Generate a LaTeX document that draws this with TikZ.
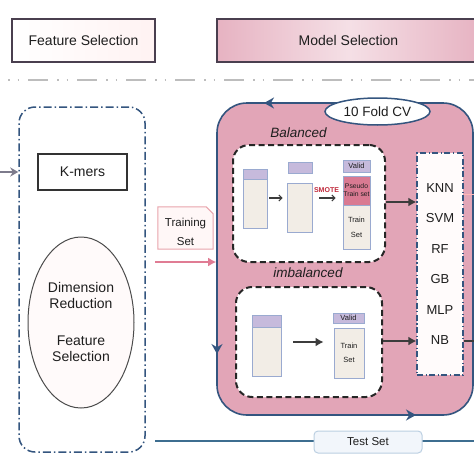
\documentclass[tikz,border=0pt]{standalone}
\usepackage{fontspec}
\setmainfont{Liberation Sans}
\usetikzlibrary{arrows.meta,shapes.geometric}
\definecolor{navy}{HTML}{34557F}
\definecolor{hdrline}{HTML}{4A3F4F}
\definecolor{pinkfill}{HTML}{E2A5B7}
\definecolor{sepgray}{HTML}{BDBDBD}
\definecolor{barfill}{HTML}{F2EDE6}
\definecolor{barline}{HTML}{9AAAD0}
\definecolor{purp}{HTML}{C6BADC}
\definecolor{pseudocol}{HTML}{D97A92}
\definecolor{txt}{HTML}{1E1E1E}
\definecolor{arrgray}{HTML}{3C3C3C}
\definecolor{pinkarrow}{HTML}{E07C94}
\definecolor{tsline}{HTML}{E8A4AC}
\definecolor{testline}{HTML}{3E6E90}
\definecolor{testfill}{HTML}{F2F6FB}
\definecolor{testdraw}{HTML}{BCD0E2}
\definecolor{smote}{HTML}{C0283A}
\definecolor{inarrow}{HTML}{7D7B8C}
\tikzset{
  hdr/.style={draw=hdrline, line width=1.2pt, inner sep=0pt, text=txt, font=\fontsize{14}{16}\selectfont},
  dashdotbox/.style={draw=navy, line width=1.5pt, dash pattern=on 8pt off 3pt on 1.5pt off 3pt},
  blackdash/.style={draw=black!85, line width=2pt, dash pattern=on 6pt off 3.5pt, fill=white, rounded corners=16pt, inner sep=0pt},
  bar/.style={draw=barline, line width=0.8pt, fill=barfill, inner sep=0pt},
  barv/.style={bar, fill=purp},
  bigarrow/.style={draw=arrgray, line width=2.4pt, -{Latex[length=8pt,width=9pt]}},
  smallarrow/.style={draw=arrgray, line width=1.1pt, -{Straight Barb[length=3pt,width=6pt]}},
  bordertip/.style={draw=navy, line width=1.5pt, -{Stealth[length=10pt,width=11pt]}},
  lbl/.style={text=txt, inner sep=0pt, align=center}
}
\begin{document}
\begin{tikzpicture}[x=1pt,y=-1pt]
\clip (0,0) rectangle (474,474);
\fill[white] (0,0) rectangle (474,474);
\useasboundingbox (0,0) rectangle (474,474);

% header
\node[hdr, left color=white, right color=pink!20!white, minimum width=143pt, minimum height=43pt] (fs) at (83.5,40.5) {Feature Selection};
\node[hdr, left color=pinkfill!85!white, right color=pinkfill!85!white, middle color=pinkfill!35!white, minimum width=263pt, minimum height=43pt] (ms) at (348.5,40.5) {Model Selection};

% separator
\draw[sepgray, line width=1.8pt, dash pattern=on 20pt off 9pt on 1.5pt off 8pt on 1.5pt off 9pt, dash phase=28pt] (7,80) -- (474,80);

% feature selection frame
\node[dashdotbox, rounded corners=16pt, minimum width=126pt, minimum height=345pt, inner sep=0pt] (fbox) at (82,279.5) {};
\coordinate (inp) at (0,172);
\draw[draw=inarrow, line width=1.6pt, -{Stealth[length=8pt,width=9pt]}] (inp) -- (inp -| fbox.west);
\node[draw=black!80, line width=1.2pt, fill=white, minimum width=89pt, minimum height=36pt, inner sep=0pt, text=txt, font=\fontsize{14}{16}\selectfont] (kmer) at (82.5,172) {K-mers};
\node[ellipse, draw=black!70, line width=1pt, fill=pink!8!white, minimum width=106pt, minimum height=171pt, inner sep=0pt] (ell) at (81,322.5) {};
\node[lbl, font=\fontsize{14}{16}\selectfont] (elltext) at (81,322) {Dimension\\Reduction\\[21pt]Feature\\Selection};

% training set tag
\path node[minimum width=55pt, minimum height=42pt, inner sep=0pt] (ts) at (185.5,228) {};
\filldraw[draw=tsline, line width=1pt, fill=red!3!white] (ts.south west) -- (ts.north west) -- ([xshift=-7pt]ts.north east) -- ([yshift=-7pt]ts.north east) -- (ts.south east) -- cycle;
\node[lbl, font=\fontsize{11.5}{19}\selectfont] (tstext) at (185.5,231.5) {Training\\Set};

% big CV frame
\node[draw=navy, line width=1.6pt, fill=pinkfill, rounded corners=30pt, minimum width=256pt, minimum height=312pt, inner sep=0pt] (cv) at (345,259) {};
\coordinate (tsa) at (155,262);
\draw[draw=pinkarrow, line width=2.4pt, -{Latex[length=8pt,width=9pt]}] (tsa) -- (tsa -| cv.west);

% border tips
\coordinate (t1) at (268,103);
\draw[bordertip] ([xshift=4pt]t1) -- ([xshift=-4pt]t1);
\coordinate (t2) at (217,350);
\draw[bordertip] ([yshift=4pt]t2) -- ([yshift=-4pt]t2);
\coordinate (t3) at (412,415);
\draw[bordertip] ([xshift=-4pt]t3) -- ([xshift=4pt]t3);

\node[ellipse, draw=navy, line width=1.5pt, fill=white, minimum width=105pt, minimum height=27pt, inner sep=0pt, text=txt, font=\fontsize{13.5}{15}\selectfont] (fold) at (377.5,111.5) {10 Fold CV};

% balanced
\node[lbl, font=\itshape\fontsize{13.5}{15}\selectfont] (ballbl) at (298.5,133) {Balanced};
\node[blackdash, minimum width=152pt, minimum height=117pt] (bal) at (309,203.5) {};
\node[barv, minimum width=24pt, minimum height=10pt] (b1v) at (255,174) {};
\node[bar, minimum width=24pt, minimum height=49pt] (b1t) at (255,203.5) {};
\node[barv, minimum width=24pt, minimum height=11pt] (b2v) at (300,167.5) {};
\node[bar, minimum width=25pt, minimum height=49pt] (b2t) at (299.5,207.5) {};
\node[barv, minimum width=27pt, minimum height=12pt, font=\fontsize{7.5}{8}\selectfont, text=txt] (vb) at (356.5,166) {Valid};
\node[bar, fill=pseudocol, minimum width=27pt, minimum height=29pt, align=center, font=\fontsize{6.8}{8}\selectfont, text=txt] (pseudo) at (356.5,190.5) {Pseudo\\Train set};
\node[bar, minimum width=27pt, minimum height=44pt, align=center, font=\fontsize{7.5}{15}\selectfont, text=txt] (trb) at (356.5,227) {Train\\Set};
\coordinate (r1) at (0,198);
\draw[smallarrow, shorten <=2pt, shorten >=4pt] (b1t.east |- r1) -- (b2t.west |- r1);
\draw[smallarrow, shorten <=7pt, shorten >=7pt] (b2t.east |- r1) -- (pseudo.west |- r1);
\node[lbl, text=smote, font=\bfseries\fontsize{7}{8}\selectfont] (smotelbl) at (326.5,190) {SMOTE};

% imbalanced
\node[lbl, font=\itshape\fontsize{13.5}{15}\selectfont] (imblbl) at (308,273) {imbalanced};
\node[blackdash, minimum width=146pt, minimum height=110pt] (imb) at (309,342) {};
\node[barv, minimum width=29pt, minimum height=12pt] (i1v) at (266.5,321) {};
\node[bar, minimum width=29pt, minimum height=49pt] (i1t) at (266.5,351.5) {};
\node[barv, minimum width=31pt, minimum height=10pt, font=\fontsize{7.5}{8}\selectfont, text=txt] (iv) at (348.5,318) {Valid};
\node[bar, minimum width=30pt, minimum height=50pt, align=center, font=\fontsize{7.5}{14}\selectfont, text=txt] (itr) at (349,353) {Train\\Set};
\coordinate (r2) at (0,342);
\draw[bigarrow, shorten <=12pt, shorten >=10pt] (i1t.east |- r2) -- (itr.west |- r2);

% classifiers
\node[draw=navy, line width=1.2pt, dash pattern=on 6pt off 2.5pt on 1.2pt off 2.5pt, fill=pink!6!white, minimum width=46pt, minimum height=222pt, inner sep=0pt] (clf) at (440,264) {};
\node[lbl, font=\fontsize{13}{30.4}\selectfont] (clftext) at (440,264) {KNN\\SVM\\RF\\GB\\MLP\\NB};
\coordinate (r3) at (0,202);
\draw[bigarrow] (bal.east |- r3) -- (clf.west |- r3);
\coordinate (r4) at (0,341);
\draw[bigarrow] (imb.east |- r4) -- (clf.west |- r4);
\coordinate (o1) at (474,194);
\draw[draw=pink!70!red!60, line width=1pt] (clf.east |- o1) -- (o1);
\coordinate (o2) at (474,341);
\draw[draw=arrgray, line width=1.5pt] (clf.east |- o2) -- (o2);

% test set
\coordinate (tl) at (155,441);
\coordinate (tr) at (474,441);
\draw[draw=testline, line width=1.5pt] (tl) -- (tr);
\node[draw=testdraw, line width=1pt, fill=testfill, rounded corners=4pt, minimum width=108pt, minimum height=22pt, inner sep=0pt, text=txt, font=\fontsize{11.5}{13}\selectfont] (test) at (368,442) {Test Set};
\end{tikzpicture}
\end{document}
